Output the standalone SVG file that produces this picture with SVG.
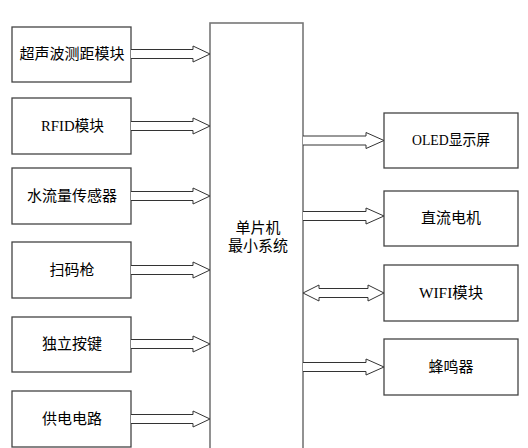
<svg xmlns="http://www.w3.org/2000/svg" width="528" height="448" viewBox="0 0 528 448">
<style>
.box{fill:#fff;stroke:#444;stroke-width:1.3}
.mcu{fill:#fff;stroke:#777;stroke-width:1.6}
.arr{fill:#fff;stroke:#333;stroke-width:1}
text{font-family:"Liberation Serif","Noto Sans CJK SC",serif;font-size:15px;fill:#000;text-anchor:middle}
</style>
<rect width="528" height="448" fill="#fff"/>
<g id="mcu"><rect class="mcu" x="210" y="23" width="93" height="430"/><text x="258" y="233">单片机</text><text x="258" y="251">最小系统</text></g>
<g id="n1"><rect class="box" x="12" y="27" width="119" height="55"/><text x="72" y="59">超声波测距模块</text></g>
<g id="n2"><rect class="box" x="12" y="98" width="119" height="56"/><text x="72.5" y="131" textLength="63" lengthAdjust="spacingAndGlyphs">RFID模块</text></g>
<g id="n3"><rect class="box" x="12" y="168" width="119" height="56"/><text x="72" y="201">水流量传感器</text></g>
<g id="n4"><rect class="box" x="12" y="242" width="119" height="56"/><text x="72" y="275">扫码枪</text></g>
<g id="n5"><rect class="box" x="12" y="317" width="119" height="55"/><text x="72" y="349">独立按键</text></g>
<g id="n6"><rect class="box" x="12" y="391" width="119" height="56"/><text x="72" y="424">供电电路</text></g>
<g id="r1"><rect class="box" x="384" y="113" width="134" height="55"/><text x="451" y="145" textLength="78" lengthAdjust="spacingAndGlyphs">OLED显示屏</text></g>
<g id="r2"><rect class="box" x="384" y="191" width="134" height="55"/><text x="451" y="223">直流电机</text></g>
<g id="r3"><rect class="box" x="384" y="265" width="134" height="56"/><text x="451" y="298" textLength="64" lengthAdjust="spacingAndGlyphs">WIFI模块</text></g>
<g id="r4"><rect class="box" x="384" y="339" width="134" height="56"/><text x="451" y="372">蜂鸣器</text></g>
<g id="connectors">
<path class="arr" d="M131 49.5H193V46L210 54L193 62V58.5H131"/>
<path class="arr" d="M131 121.5H193V118L210 126L193 134V130.5H131"/>
<path class="arr" d="M131 191.5H193V188L210 196L193 204V200.5H131"/>
<path class="arr" d="M131 265.5H193V262L210 270L193 278V274.5H131"/>
<path class="arr" d="M131 339.5H193V336L210 344L193 352V348.5H131"/>
<path class="arr" d="M131 414.5H193V411L210 419L193 427V423.5H131"/>
<path class="arr" d="M303 136H366V132.5L384 140.5L366 148.5V145H303"/>
<path class="arr" d="M303 211.5H366V208L384 216L366 224V220.5H303"/>
<path class="arr" d="M303 293L319 285V288.5H368V285L384 293L368 301V297.5H319V301Z"/>
<path class="arr" d="M303 362.5H366V359L384 367L366 375V371.5H303"/>
</g>
</svg>
